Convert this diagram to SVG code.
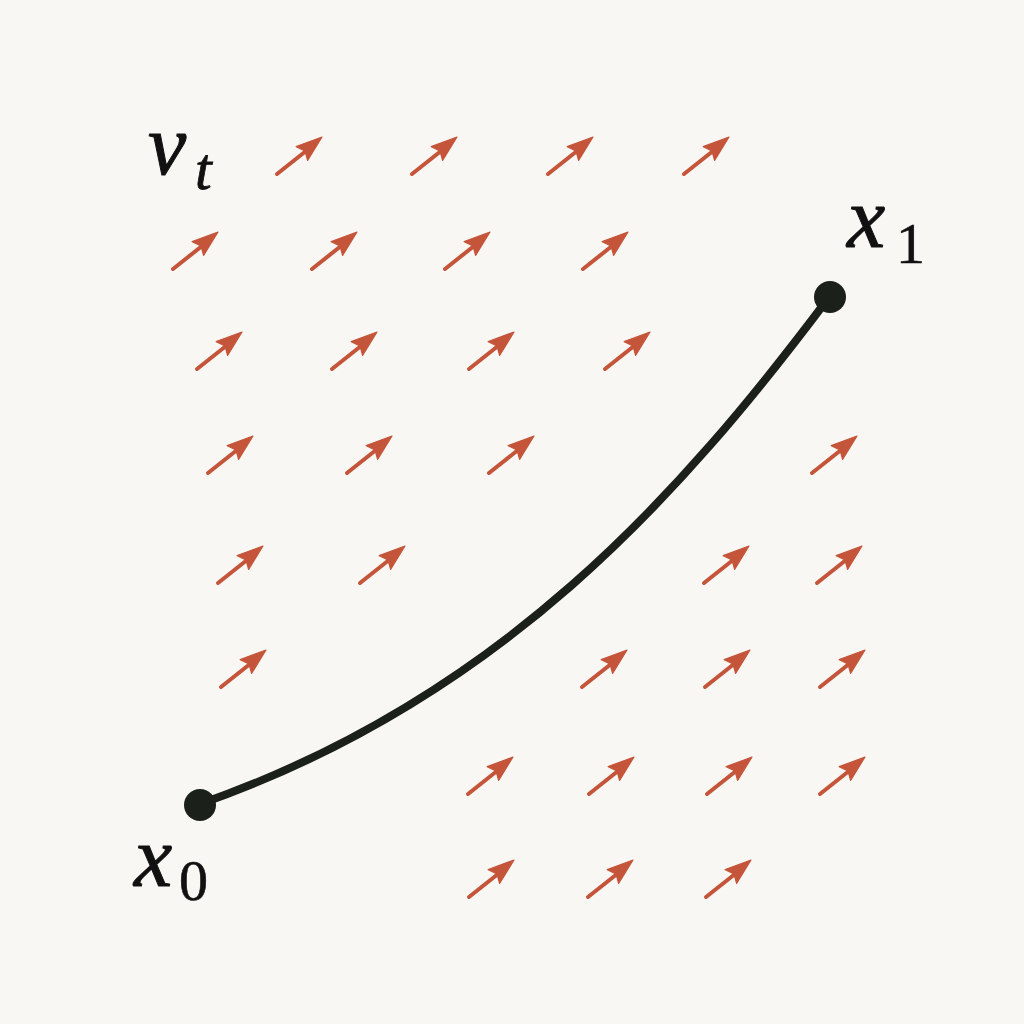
<svg xmlns="http://www.w3.org/2000/svg" xmlns:xlink="http://www.w3.org/1999/xlink" width="1024" height="1024" viewBox="0 0 1024 1024">
<style>
.shaft{stroke:#C5553A;stroke-width:4;stroke-linecap:round;fill:none}
.head{fill:#C5553A;stroke:#C5553A;stroke-width:1.2;stroke-linejoin:round}
.path{stroke:#1C201B;stroke-width:8;fill:none;stroke-linecap:round}
.dot{fill:#1C201B}
.lbl{font-family:"Liberation Serif","DejaVu Serif",serif;fill:#111;stroke:#111;stroke-width:1;font-style:italic;font-size:86px}
.sub{font-family:"Liberation Serif","DejaVu Serif",serif;fill:#111;stroke:#111;stroke-width:0.6;font-size:58px}
.subi{font-family:"Liberation Serif","DejaVu Serif",serif;fill:#111;stroke:#111;stroke-width:0.8;font-style:italic;font-size:60px}
</style>
<defs>
<g id="arr">
<line class="shaft" x1="0" y1="0" x2="29" y2="-23"/>
<polygon class="head" points="45,-37 30.6,-13.6 28,-23 19.2,-27.4"/>
</g>
</defs>
<rect width="1024" height="1024" fill="#F8F7F3"/>
<g id="field">
<use xlink:href="#arr" x="277" y="174"/>
<use xlink:href="#arr" x="412" y="174"/>
<use xlink:href="#arr" x="548" y="174"/>
<use xlink:href="#arr" x="684" y="174"/>
<use xlink:href="#arr" x="173" y="269"/>
<use xlink:href="#arr" x="312" y="269"/>
<use xlink:href="#arr" x="445" y="269"/>
<use xlink:href="#arr" x="583" y="269"/>
<use xlink:href="#arr" x="197" y="369"/>
<use xlink:href="#arr" x="332" y="369"/>
<use xlink:href="#arr" x="469" y="369"/>
<use xlink:href="#arr" x="605" y="369"/>
<use xlink:href="#arr" x="208" y="473"/>
<use xlink:href="#arr" x="347" y="473"/>
<use xlink:href="#arr" x="489" y="473"/>
<use xlink:href="#arr" x="812" y="473"/>
<use xlink:href="#arr" x="218" y="583"/>
<use xlink:href="#arr" x="360" y="583"/>
<use xlink:href="#arr" x="704" y="583"/>
<use xlink:href="#arr" x="817" y="583"/>
<use xlink:href="#arr" x="221" y="687"/>
<use xlink:href="#arr" x="582" y="687"/>
<use xlink:href="#arr" x="705" y="687"/>
<use xlink:href="#arr" x="820" y="687"/>
<use xlink:href="#arr" x="468" y="794"/>
<use xlink:href="#arr" x="589" y="794"/>
<use xlink:href="#arr" x="707" y="794"/>
<use xlink:href="#arr" x="820" y="794"/>
<use xlink:href="#arr" x="469" y="897"/>
<use xlink:href="#arr" x="588" y="897"/>
<use xlink:href="#arr" x="706" y="897"/>
</g>
<g id="connectors">
<path class="path" d="M200,804 C500,699 680,496 830,296"/>
</g>
<g id="x0">
<circle class="dot" cx="200" cy="805" r="16"/>
<text class="lbl" x="134" y="886">x</text>
<text class="sub" x="179" y="900">0</text>
</g>
<g id="x1">
<circle class="dot" cx="830" cy="297" r="16"/>
<text class="lbl" x="847" y="247">x</text>
<text class="sub" x="896" y="263">1</text>
</g>
<g id="vt">
<text class="lbl" x="148" y="174">v</text>
<text class="subi" x="195" y="189">t</text>
</g>
</svg>
